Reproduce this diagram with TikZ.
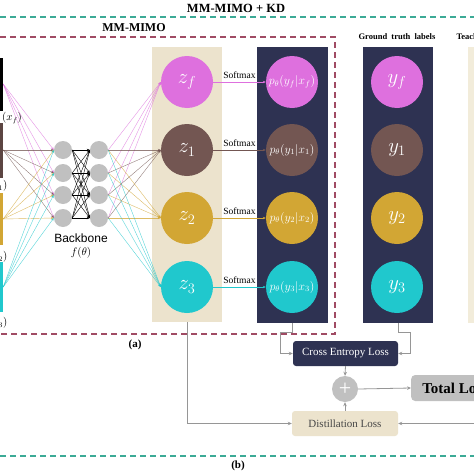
\documentclass[tikz,border=0pt]{standalone}
\usepackage{fontspec}
\setmainfont{Liberation Serif}
\setsansfont{Liberation Sans}
\usetikzlibrary{arrows.meta,calc}
\definecolor{cpink}{RGB}{222,112,222}
\definecolor{cbrown}{RGB}{115,86,82}
\definecolor{cgold}{RGB}{210,166,52}
\definecolor{cteal}{RGB}{32,200,205}
\definecolor{cnavy}{RGB}{46,50,82}
\definecolor{cbeige}{RGB}{236,227,205}
\definecolor{cbeigeL}{RGB}{242,236,218}
\definecolor{cnode}{RGB}{192,192,192}
\definecolor{lgray}{RGB}{150,150,150}
\definecolor{dteal}{RGB}{60,170,150}
\definecolor{dmaroon}{RGB}{160,75,100}
\definecolor{dtext}{RGB}{70,70,70}
\begin{document}
\begin{tikzpicture}[x=1pt,y=-1pt,
  circ/.style={circle, minimum size=52pt, inner sep=0pt, text=white},
  nnode/.style={circle, fill=cnode, minimum size=18pt, inner sep=0pt},
  strip/.style={rectangle, minimum width=6pt, inner sep=0pt},
  conn/.style={draw=lgray, line width=0.8pt, -{Stealth[length=4pt,width=3.5pt]}},
  net/.style={line width=0.4pt, -{Stealth[length=3pt,width=2.5pt]}},
  smax/.style={line width=0.6pt, -{Stealth[length=3pt,width=2.5pt]}},
  tealdash/.style={draw=dteal, line width=1.1pt, dash pattern=on 6pt off 4pt},
  mardash/.style={draw=dmaroon, line width=1.1pt, dash pattern=on 6pt off 4pt},
  smlabel/.style={font=\fontsize{9.5}{11}\selectfont, inner sep=1pt}
]
\useasboundingbox (0,0) rectangle (474,474);
\clip (0,0) rectangle (474,474);
\fill[white] (0,0) rectangle (474,474);

% titles and frames
\node[font=\fontsize{12.5}{14}\selectfont\bfseries] (ttl) at (236,8) {MM-MIMO + KD};
\draw[tealdash] (0,17) -- (474,17);
\draw[tealdash] (0,456) -- (474,456);
\node[font=\fontsize{12}{14}\selectfont\bfseries] (ttla) at (134,28) {MM-MIMO};
\draw[mardash] (0,37) -- (335,37) -- (335,334) -- (0,334);
\node[font=\fontsize{11}{13}\selectfont\bfseries] (capa) at (135,345) {(a)};
\node[font=\fontsize{11}{13}\selectfont\bfseries] (capb) at (238,466) {(b)};

% panels
\node[fill=cbeige, minimum width=70pt, minimum height=275pt, inner sep=0pt] (zpanel) at (187,184.5) {};
\node[fill=cnavy, minimum width=71pt, minimum height=276pt, inner sep=0pt] (ppanel) at (292.5,185) {};
\node[fill=cnavy, minimum width=70pt, minimum height=276pt, inner sep=0pt] (gtpanel) at (398,185) {};
\node[fill=cbeigeL, minimum width=70pt, minimum height=276pt, inner sep=0pt] (tpanel) at (503,185) {};
\node[font=\fontsize{8.5}{10}\selectfont\bfseries] (gtl) at (397,37) {Ground\ \ truth\ \ labels};
\node[font=\fontsize{8.5}{10}\selectfont\bfseries, anchor=west] (tl) at (453,37) {Teacher};

% input strips
\node[strip, fill=black, minimum height=53pt] (xf) at (0,84) {};
\node[strip, fill=cbrown!80!black, minimum height=55pt] (x1) at (0,150) {};
\node[strip, fill=cgold, minimum height=52pt] (x2) at (0,219) {};
\node[strip, fill=cteal, minimum height=50pt] (x3) at (0,287) {};
\node[font=\fontsize{10.5}{12}\selectfont] (lxf) at (12,118) {$(x_f)$};
\node[font=\fontsize{10.5}{12}\selectfont, anchor=east] (lx1) at (11,186) {$(x_1)$};
\node[font=\fontsize{10.5}{12}\selectfont, anchor=east] (lx2) at (11,257) {$(x_2)$};
\node[font=\fontsize{10.5}{12}\selectfont, anchor=east] (lx3) at (11,323) {$(x_3)$};

% backbone nodes
\foreach \i/\yy in {1/150,2/173,3/195,4/218}{
  \node[nnode] (a\i) at (63,\yy) {};
  \node[nnode] (b\i) at (99,\yy) {};
}
\node[font=\sffamily\fontsize{12}{14}\selectfont] (bbl) at (81,238) {Backbone};
\node[font=\fontsize{11}{13}\selectfont] (bbf) at (81,253) {$f(\theta)$};

% z, p, y circles
\foreach \n/\c/\yy/\s in {f/cpink/82/f,1/cbrown/150/1,2/cgold/218/2,3/cteal/287/3}{
  \node[circ, fill=\c, font=\fontsize{21}{24}\selectfont] (z\n) at (187,\yy) {$z_{\s}$};
  \node[circ, fill=\c, font=\fontsize{11.5}{13}\selectfont] (p\n) at (292,\yy) {$p_\theta(y_{\s}|x_{\s})$};
  \node[circ, fill=\c, font=\fontsize{21}{24}\selectfont] (y\n) at (397,\yy) {$y_{\s}$};
  \draw[smax, color=\c] (z\n.east) -- (p\n.west) node[midway, above=2pt, smlabel, text=black] {Softmax};
}

% network connections
\begin{scope}[opacity=0.75]
\foreach \s/\c in {xf/cpink,x1/cbrown,x2/cgold,x3/cteal}{
  \foreach \i in {1,...,4}{
    \draw[net, color=\c] (\s.east) -- (a\i.west);
  }
}
\foreach \z/\c in {zf/cpink,z1/cbrown,z2/cgold,z3/cteal}{
  \foreach \i in {1,...,4}{
    \draw[net, color=\c] (b\i.east) -- (\z.west);
  }
}
\end{scope}
\foreach \i in {1,...,4}{
  \foreach \j in {1,...,4}{
    \draw[net, color=black] (a\i.east) -- (b\j.west);
  }
}

% loss section
\node[fill=cnavy, rounded corners=3pt, minimum width=105pt, minimum height=25pt, text=white, font=\fontsize{11}{13}\selectfont] (ce) at (345.5,353.5) {Cross Entropy Loss};
\node[circle, fill=cnode, minimum size=26pt, inner sep=0pt, text=white, font=\fontsize{22}{22}\selectfont] (plus) at (345,389) {+};
\node[fill=cbeige, rounded corners=3pt, minimum width=106pt, minimum height=25pt, text=dtext, font=\fontsize{11}{13}\selectfont] (dist) at (345,423.5) {Distillation Loss};
\node[fill=cnode, rounded corners=4pt, minimum width=100pt, minimum height=26pt, anchor=west, font=\fontsize{15}{17}\selectfont\bfseries, align=left, inner sep=0pt] (tot) at (411,388) {\hspace*{8pt}Total Loss\hspace*{20pt}};

\draw[conn] (ppanel.south) -- ++(0,9) -| ([xshift=-12pt]ce.west) -- (ce.west);
\draw[conn] (gtpanel.south) -- ++(0,9) -| ([xshift=12pt]ce.east) -- (ce.east);
\draw[conn] (ce.south) -- (plus.north);
\draw[conn] (dist.north) -- (plus.south);
\draw[conn] (plus.east) -- (tot.west);
\draw[conn] (zpanel.south) |- (dist.west);
\draw[conn] (tpanel.south) |- (dist.east);
\end{tikzpicture}
\end{document}
